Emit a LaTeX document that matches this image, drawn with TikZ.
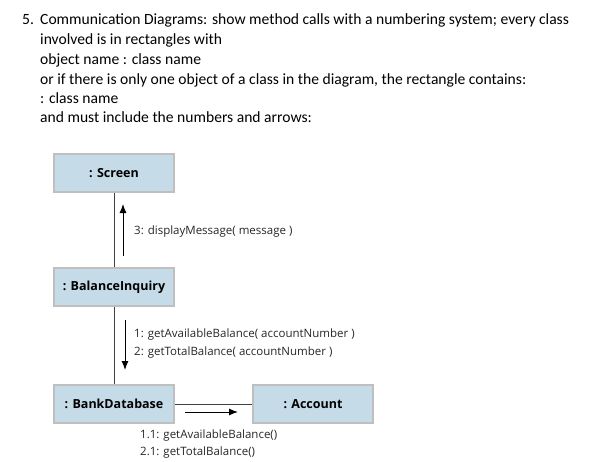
\documentclass[tikz,border=0pt]{standalone}
\usepackage{fontspec}
\usetikzlibrary{arrows.meta}
\setmainfont{Carlito}
\newfontfamily\uml{Open Sans}
\begin{document}
\begin{tikzpicture}[x=1pt,y=-1pt,
  txt/.style={anchor=base west,inner sep=0pt,font=\fontsize{15.6}{18}\selectfont},
  box/.style={draw=black!25,fill={rgb,255:red,197;green,219;blue,232},line width=2.2pt,minimum width=120pt,minimum height=38pt,font=\uml\bfseries\fontsize{12.5}{14}\selectfont},
  lab/.style={anchor=base west,inner sep=0pt,font=\uml\fontsize{11.5}{13}\selectfont,text=black!85},
  link/.style={draw=black!75,line width=1pt},
  msg/.style={draw=black,line width=1pt,-{Latex[length=9pt,width=7pt]}}]
\useasboundingbox (0,0) rectangle (603,461);
\node[txt] (n5) at (22,24) {5.};
\node[txt] (l1) at (40,24) {Communication Diagrams: show method calls with a numbering system; every class};
\node[txt] (l2) at (40,44) {involved is in rectangles with};
\node[txt] (l3) at (40,64) {object name : class name};
\node[txt] (l4) at (40,84) {or if there is only one object of a class in the diagram, the rectangle contains:};
\node[txt] (l5) at (40,103) {: class name};
\node[txt] (l6) at (40,122) {and must include the numbers and arrows:};
\node[box] (scr) at (114,173) {: Screen};
\node[box] (bi) at (114,287) {: BalanceInquiry};
\node[box] (bd) at (114,404) {: BankDatabase};
\node[box] (acc) at (313,404) {: Account};
\draw[link] (scr.south) -- (bi.north);
\draw[link] (bi.south) -- (bd.north);
\draw[link] (bd.east) -- (acc.west);
\coordinate (a1s) at (123,256); \coordinate (a1e) at (123,204);
\coordinate (a2s) at (125,320); \coordinate (a2e) at (125,370);
\coordinate (a3s) at (185,412); \coordinate (a3e) at (238,412);
\draw[msg] (a1s) -- (a1e);
\draw[msg] (a2s) -- (a2e);
\draw[msg] (a3s) -- (a3e);
\node[lab] (m3) at (134,234) {3: displayMessage( message )};
\node[lab] (m1) at (134,337) {1: getAvailableBalance( accountNumber )};
\node[lab] (m2) at (134,355) {2: getTotalBalance( accountNumber )};
\node[lab] (m11) at (140,438) {1.1: getAvailableBalance()};
\node[lab] (m21) at (140,455) {2.1: getTotalBalance()};
\end{tikzpicture}
\end{document}
